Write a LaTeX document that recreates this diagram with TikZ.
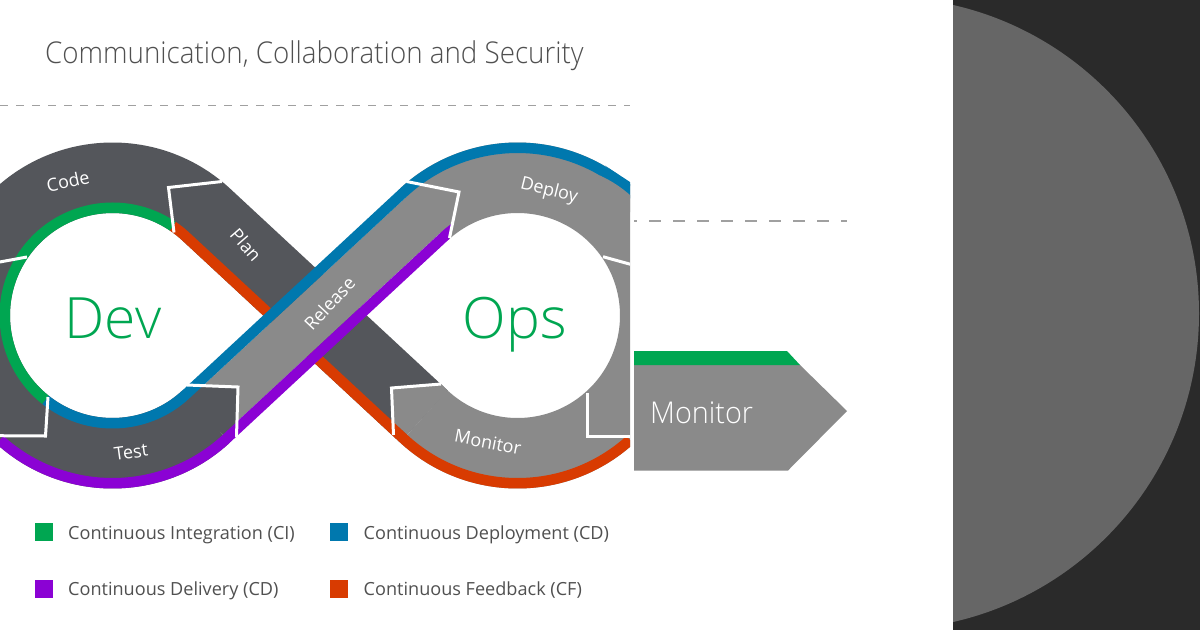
\documentclass[tikz,border=0pt]{standalone}
\usepackage{fontspec}
\setmainfont{Open Sans}
\newfontfamily\lightf{Open Sans Light}
\definecolor{darkband}{HTML}{54565B}
\definecolor{grayband}{HTML}{8A8A8A}
\definecolor{cigreen}{HTML}{00A651}
\definecolor{cdblue}{HTML}{0078AE}
\definecolor{cdpurple}{HTML}{8B02D4}
\definecolor{cforange}{HTML}{D83B01}
\definecolor{panel}{HTML}{2A2A2A}
\definecolor{disc}{HTML}{666666}
\definecolor{inktext}{HTML}{505050}
\definecolor{dashgray}{HTML}{A0A0A0}
\tikzset{
  wide/.style={line width=70.5pt,line join=round},
  stripe/.style={line width=10.5pt},
  chevron/.style={draw=white,line width=3pt,miter limit=10},
  seglabel/.style={text=white,font=\fontsize{18}{20}\selectfont,inner sep=0pt},
  bigword/.style={text=cigreen,font=\lightf\fontsize{57}{60}\selectfont,inner sep=0pt,anchor=base},
  legendtext/.style={text=inktext,font=\fontsize{18.1}{22}\selectfont,anchor=base west,inner sep=0pt},
}
\begin{document}
\begin{tikzpicture}[x=1pt,y=1pt]
\useasboundingbox (0,-630) rectangle (1200,0);
\fill[white] (0,-630) rectangle (1200,0);
\coordinate (dv) at (112.5,-315.5);
\coordinate (op) at (517.5,-315.5);
\begin{scope}
\clip (0,-630) rectangle (630,0);
% Dev half and Plan strip
\draw[wide,darkband] ([shift={(op)}]227.14:137.75) -- ([shift={(dv)}]47.14:137.75)
  arc[start angle=47.14,end angle=312.86,radius=137.75];
\fill[darkband] (186,-395) -- (188,-385) -- (238,-387) -- (237,-425) -- (226,-437) -- (180,-400) -- cycle;
% Ops ring
\draw[wide,grayband] ([shift={(op)}]132.86:137.75)
  arc[start angle=132.86,end angle=-132.86,radius=137.75];
\fill[grayband] (441,-384) -- (391,-388) -- (392.5,-421.7) -- (407,-434.7) -- (447.8,-390.6) -- cycle;
% Orange
\draw[stripe,cforange] ([shift={(dv)}]56:107.75) arc[start angle=56,end angle=47.14,radius=107.75]
  -- ([shift={(op)}]227.14:167.75) arc[start angle=227.14,end angle=312.1,radius=167.75];
% Release
\fill[grayband] (238,-387) -- (202.7,-386) -- (407,-196.3) -- (409.2,-194.3) -- (442.8,-230.6) -- (440.6,-232.6) -- (237,-421.7) -- cycle;
% Green
\draw[stripe,cigreen] ([shift={(dv)}]56:107.75) arc[start angle=56,end angle=231.6,radius=107.75];
% Blue
\draw[stripe,cdblue] ([shift={(dv)}]231.6:107.75) arc[start angle=231.6,end angle=312.86,radius=107.75]
  -- ([shift={(op)}]132.86:167.75) arc[start angle=132.86,end angle=35,radius=167.75];
\fill[cdblue] (605,-165.6) -- (630,-182) -- (630,-186) -- cycle;
\fill[grayband] (600,-175.6) .. controls (612,-181) and (622,-188) .. (630,-195) -- (630,-212) -- (600,-212) -- cycle;
% Purple, cut along the Release chevron
\begin{scope}
\clip (-10,-640) -- (366.5,-640) -- (478,-100) -- (-10,-100) -- cycle;
\draw[stripe,cdpurple] ([shift={(dv)}]227.9:167.75) arc[start angle=227.9,end angle=312.86,radius=167.75]
  -- ([shift={(op)}]132.86:107.75) arc[start angle=132.86,end angle=122,radius=107.75];
\end{scope}
% Chevrons
\draw[chevron] (222,-181.5) -- (168.5,-187.5) -- (174,-232.5);
\draw[chevron] (-3,-262.5) -- (27,-257);
\draw[chevron] (-3,-435.7) -- (45.5,-436) -- (48,-397);
\draw[chevron] (187,-385) -- (238,-387) -- (236.5,-437);
\draw[chevron] (406.5,-181.5) -- (459,-192) -- (449.5,-238);
\draw[chevron] (603,-256.7) -- (633,-265);
\draw[chevron] (441,-384) -- (391.5,-388) -- (393.5,-435);
\draw[chevron] (587,-393) -- (587,-436) -- (633,-436);
\end{scope}
% Labels on the loop
\node[seglabel,rotate=12] (code) at (68,-181) {Code};
\node[seglabel,rotate=-49] (plan) at (246,-245) {Plan};
\node[seglabel,rotate=8] (test) at (131,-452) {Test};
\node[seglabel,rotate=47] (release) at (329.5,-303.5) {Release};
\node[seglabel,rotate=-14] (deploy) at (549,-191) {Deploy};
\node[seglabel,rotate=-11] (monloop) at (488,-442) {Monitor};
\node[bigword] (dev) at (113,-338) {Dev};
\node[bigword] (ops) at (515,-338) {Ops};
% Monitor arrow
\fill[grayband] (634,-365) -- (800,-365) -- (847,-411) -- (788,-470.5) -- (634,-470.5) -- cycle;
\fill[cigreen] (634,-351) -- (787,-351) -- (800,-365) -- (634,-365) -- cycle;
\node[text=white,font=\lightf\fontsize{30}{32}\selectfont,anchor=base west,inner sep=0pt] (monarrow) at (650,-423) {\scalebox{0.96}[1]{Monitor}};
% Title and rules
\node[text=inktext,font=\lightf\fontsize{30}{32}\selectfont,anchor=base west,inner sep=0pt] (title) at (45,-63) {\scalebox{0.925}[1]{Communication, Collaboration and Security}};
\draw[draw=dashgray,line width=1.5pt,dash pattern=on 8pt off 8pt] (0,-105.5) -- (630,-105.5);
\draw[draw=dashgray,line width=1.2pt,dash pattern=on 12pt off 12pt,dash phase=9pt] (634,-221) -- (847,-221);
% Legend
\fill[cigreen] (35,-523) rectangle (52.5,-540.5);
\node[legendtext] (l1) at (68,-539.5) {Continuous Integration (CI)};
\fill[cdblue] (330,-523) rectangle (347.5,-540.5);
\node[legendtext] (l2) at (363.5,-539.5) {Continuous Deployment (CD)};
\fill[cdpurple] (35,-580) rectangle (52.5,-597.5);
\node[legendtext] (l3) at (68,-595.5) {Continuous Delivery (CD)};
\fill[cforange] (330,-580) rectangle (347.5,-597.5);
\node[legendtext] (l4) at (363.5,-595.5) {Continuous Feedback (CF)};
% Right panel
\fill[panel] (953,-630) rectangle (1200,0);
\begin{scope}
\clip (953,-630) rectangle (1200,0);
\fill[disc] (882.6,-313.5) circle[radius=316.4];
\end{scope}
\end{tikzpicture}
\end{document}
